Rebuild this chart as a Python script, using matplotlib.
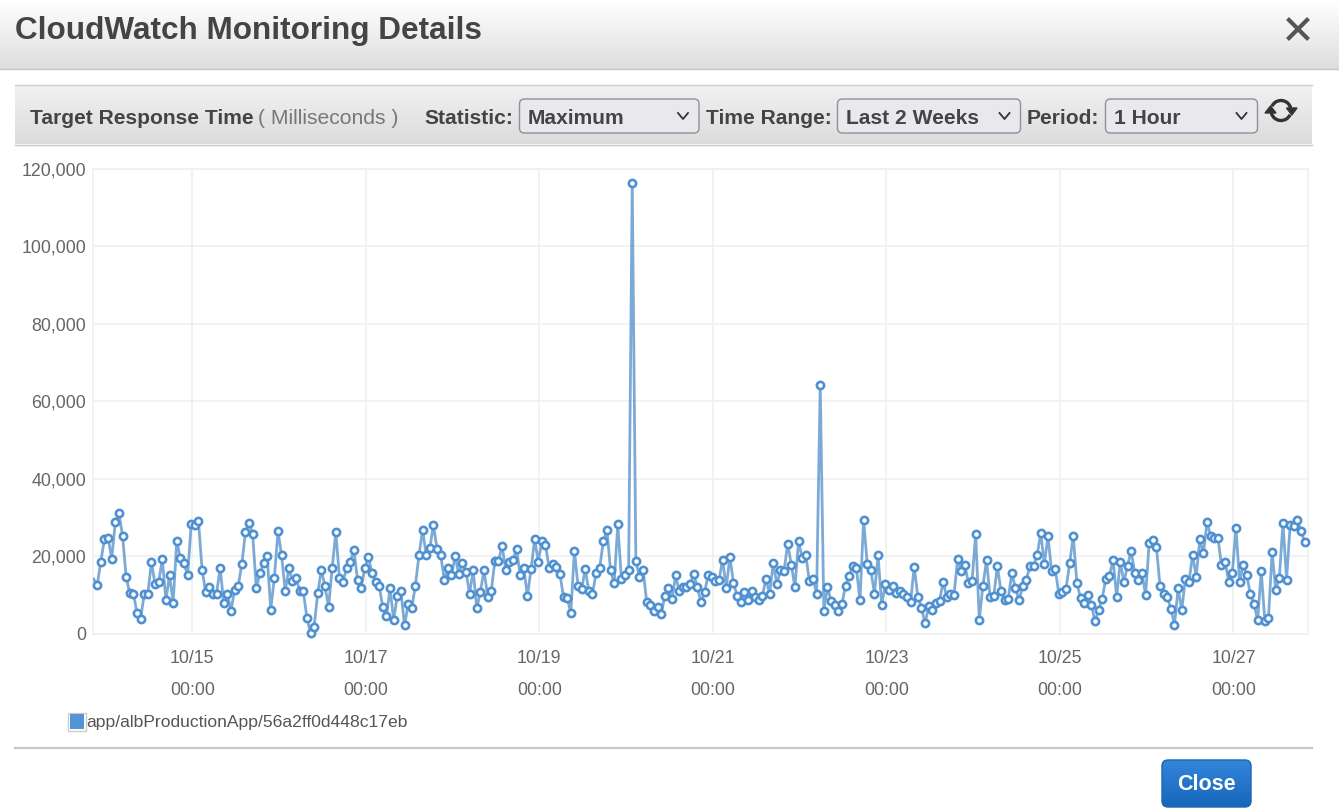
import numpy as np
import matplotlib
matplotlib.use('Agg')
import matplotlib.pyplot as plt
from matplotlib.patches import FancyBboxPatch, Rectangle, Arc

plt.rcParams['font.family'] = ['Liberation Sans', 'DejaVu Sans']

# Maximum target response time per hour, in thousands of ms
response_k = [
    14.1, 12.6, 18.6, 24.4, 24.8, 19.3, 28.7, 31.1, 25.3, 14.7, 10.4, 10.3, 5.4, 3.8, 10.2, 10.3,
    18.5, 12.7, 13.3, 19.2, 8.6, 15.1, 7.9, 23.9, 19.4, 18.2, 15.0, 28.2, 28.0, 29.1, 16.5, 10.7,
    11.9, 10.3, 10.3, 16.9, 7.9, 10.2, 5.9, 11.2, 12.2, 18.0, 26.1, 28.6, 25.7, 11.7, 15.6, 18.1,
    20.0, 6.2, 14.4, 26.4, 20.2, 10.9, 16.9, 13.6, 14.4, 11.0, 11.0, 4.0, 0.1, 1.8, 10.4, 16.5,
    12.2, 6.9, 17.0, 26.2, 14.4, 13.3, 17.0, 18.6, 21.6, 13.9, 11.8, 16.8, 19.8, 15.6, 13.4, 12.2,
    6.8, 4.4, 11.7, 3.4, 9.8, 11.1, 2.1, 7.5, 6.5, 12.3, 20.2, 26.7, 20.3, 22.1, 28.0, 21.9,
    20.4, 13.9, 16.9, 15.0, 19.9, 15.4, 18.1, 16.0, 10.3, 16.3, 6.5, 10.8, 16.4, 9.5, 11.0, 18.8,
    18.8, 22.6, 16.4, 18.6, 19.0, 21.9, 15.0, 17.0, 9.6, 16.6, 24.3, 18.6, 23.8, 22.9, 17.0, 18.0,
    17.1, 15.3, 9.4, 9.3, 5.2, 21.3, 12.4, 11.5, 16.6, 10.9, 10.3, 15.6, 17.0, 23.8, 26.7, 16.3,
    13.0, 28.2, 14.1, 15.0, 16.5, 116.5, 18.7, 14.6, 16.4, 8.2, 7.4, 5.8, 6.8, 5.0, 9.7, 11.8,
    8.9, 15.0, 10.9, 12.0, 12.0, 12.8, 15.4, 11.9, 8.2, 10.6, 15.1, 14.5, 13.5, 13.7, 19.1, 11.8,
    19.8, 13.1, 9.7, 8.2, 10.6, 8.7, 11.1, 9.4, 8.6, 9.6, 14.2, 10.2, 18.3, 12.7, 16.3, 16.2,
    23.2, 17.8, 11.9, 23.9, 19.5, 20.4, 13.5, 14.2, 10.3, 64.3, 5.9, 11.9, 8.5, 7.4, 5.9, 7.5,
    12.4, 14.8, 17.4, 16.8, 8.6, 29.4, 18.0, 16.3, 10.3, 20.2, 7.4, 12.7, 11.2, 12.3, 10.5, 10.9,
    10.2, 9.5, 8.1, 17.3, 9.5, 6.7, 2.6, 7.1, 6.2, 8.0, 8.4, 13.3, 9.4, 10.3, 9.9, 19.2,
    16.2, 17.6, 13.1, 13.6, 25.7, 3.5, 12.4, 18.9, 9.4, 9.7, 17.4, 11.0, 8.6, 9.0, 15.6, 11.7,
    8.6, 12.2, 13.8, 17.4, 17.5, 20.3, 25.9, 18.0, 25.1, 16.2, 16.7, 10.3, 10.7, 11.6, 18.2, 25.2,
    13.0, 9.2, 8.0, 10.0, 7.4, 3.2, 6.0, 9.0, 14.2, 14.9, 19.0, 9.5, 18.5, 13.3, 17.5, 21.3,
    15.6, 13.9, 15.6, 9.9, 23.4, 24.2, 22.4, 12.2, 10.1, 9.5, 6.3, 2.3, 11.7, 6.0, 14.0, 13.3,
    20.3, 14.7, 24.4, 20.7, 28.8, 25.1, 24.8, 24.8, 17.6, 18.6, 13.3, 15.7, 27.3, 13.4, 17.8, 15.0,
    10.1, 7.7, 3.4, 16.1, 3.2, 3.9, 21.1, 11.2, 14.3, 28.6, 13.9, 28.0, 27.9, 29.2, 26.5, 23.6,
]
first_hour = -27.3  # hours relative to 10/15 00:00

tick_days = [0, 2, 4, 6, 8, 10, 12]
tick_dates = ['10/15', '10/17', '10/19', '10/21', '10/23', '10/25', '10/27']
tick_time = '00:00'
y_ticks = [0, 20000, 40000, 60000, 80000, 100000, 120000]

legend_label = 'app/albProductionApp/56a2ff0d448c17eb'
modal_title = 'CloudWatch Monitoring Details'
metric_name = 'Target Response Time'
metric_unit = '( Milliseconds )'
dropdowns = [('Statistic:', 'Maximum'), ('Time Range:', 'Last 2 Weeks'), ('Period:', '1 Hour')]

W, H = 1339, 808
LINE = '#5b95cc'
TEXT = '#444444'

fig = plt.figure(figsize=(W / 100, H / 100), dpi=100, facecolor='white')

# page furniture lives in an overlay axes measured in pixels
ui = fig.add_axes([0, 0, 1, 1], zorder=0)
ui.set_xlim(0, W)
ui.set_ylim(H, 0)
ui.axis('off')


def gradient(x0, x1, y0, y1, top, bottom, clip=None):
    g = np.linspace(0, 1, 64)[:, None, None]
    c0 = np.array(matplotlib.colors.to_rgb(top))
    c1 = np.array(matplotlib.colors.to_rgb(bottom))
    img = c0 + (c1 - c0) * g
    im = ui.imshow(img, extent=(x0, x1, y1, y0), aspect='auto', zorder=1, interpolation='bilinear')
    if clip is not None:
        im.set_clip_path(clip)
    return im


# modal header
gradient(0, W, 0, 69, '#ffffff', '#dedede')
ui.plot([0, W], [69, 69], color='#c4c4c4', lw=1, zorder=2)
ui.text(15, 30.5, modal_title, fontsize=22.7, fontweight='bold', color=TEXT, va='center', zorder=3)
ui.plot([1289, 1307], [20, 38], color='#555555', lw=3, zorder=3)
ui.plot([1289, 1307], [38, 20], color='#555555', lw=3, zorder=3)

# toolbar
gradient(15, 1312, 85, 144, '#f1f1f1', '#dcdcdc')
ui.plot([15, 1312], [85, 85], color='#cfcfcf', lw=1, zorder=2)
ui.plot([15, 1312], [144.5, 144.5], color='#c8c8c8', lw=1, zorder=2)
ui.text(29.5, 118, metric_name, fontsize=15.1, fontweight='bold', color=TEXT, va='center', zorder=3)
ui.text(258.5, 118, metric_unit, fontsize=15.2, color='#777777', va='center', zorder=3)

label_x = [424.5, 705.5, 1026.5]
box_x = [(519.5, 699), (837.5, 1020.5), (1105.5, 1257.5)]
for (label, value), lx, (b0, b1) in zip(dropdowns, label_x, box_x):
    ui.text(lx, 118, label, fontsize=15.1, fontweight='bold', color=TEXT, va='center', zorder=3)
    ui.add_patch(FancyBboxPatch((b0 + 4, 103), b1 - b0 - 8, 26, boxstyle='round,pad=4,rounding_size=5',
                                fc='#e9e9ed', ec='#8f8f9d', lw=1, zorder=2))
    ui.text(b0 + 8.5, 118, value, fontsize=15.15, fontweight='bold', color=TEXT, va='center', zorder=3)
    ui.plot([b1 - 21, b1 - 16, b1 - 11], [113, 119, 113], color='#333333', lw=1.3, zorder=3)

# refresh icon
cx, cy, r = 1281, 110.5, 10
ui.add_patch(Arc((cx, cy), 2 * r, 2 * r, theta1=205, theta2=345, color='#333333', lw=2.4, zorder=3))
ui.add_patch(Arc((cx, cy), 2 * r, 2 * r, theta1=25, theta2=165, color='#333333', lw=2.4, zorder=3))
ui.fill([1265, 1276, 1270.5], [113, 113, 106], color='#333333', zorder=3)
ui.fill([1286.5, 1297, 1291.8], [108, 108, 115], color='#333333', zorder=3)

# legend
ui.add_patch(Rectangle((67.5, 712.5), 18, 18, fc='white', ec='#cccccc', lw=1, zorder=2))
ui.add_patch(Rectangle((70, 714), 14, 15, fc='#5294d4', ec='none', zorder=3))
ui.text(86.5, 722, legend_label, fontsize=12.6, color='#555555', va='center', zorder=3)

# footer
ui.plot([15, 1312], [748, 748], color='#c8c8c8', lw=1.6, zorder=2)
btn = FancyBboxPatch((1166, 764), 81, 39, boxstyle='round,pad=4,rounding_size=6',
                     fc='none', ec='#1a66b3', lw=1, zorder=4)
ui.add_patch(btn)
gradient(1162, 1251, 760, 807, '#3386dc', '#1766b8', clip=btn)
ui.text(1206.5, 785, 'Close', fontsize=15.5, fontweight='bold', color='white', ha='center', va='center', zorder=5)

# the chart itself
ax_left, ax_right, ax_top, ax_bottom = 93, 1308, 169, 633.5
ax = fig.add_axes([ax_left / W, 1 - ax_bottom / H, (ax_right - ax_left) / W, (ax_bottom - ax_top) / H], zorder=1)
ax.patch.set_alpha(0)

px_per_hour = 3.615
zero_px = 192.3
ax.set_xlim((ax_left - zero_px) / px_per_hour, (ax_right - zero_px) / px_per_hour)
ax.set_ylim(0, 120000)

hours = first_hour + np.arange(len(response_k))
values = np.array(response_k) * 1000
ax.plot(hours, values, color=LINE, lw=2, alpha=0.8, zorder=3)
# the first sample sits on the plot edge and shows no marker in the reference
ax.plot(hours[1:], values[1:], ls='none', marker='o', ms=5.2, mfc='white', mec='#4f91d0', mew=1.9,
        zorder=4, clip_on=False)

ax.set_xticks([d * 24 for d in tick_days])
ax.set_xticklabels([f'{d}\n\n{tick_time}' for d in tick_dates], linespacing=0.92)
ax.set_yticks(y_ticks)
ax.yaxis.set_major_formatter(matplotlib.ticker.FuncFormatter(lambda v, _: f'{int(v):,}'))
ax.tick_params(length=0, labelsize=12.8, labelcolor='#666666')
ax.tick_params(axis='x', pad=12)
ax.tick_params(axis='y', pad=5)
ax.grid(True, color='#f0f0f0', lw=1.2)
ax.set_axisbelow(True)
for side in ax.spines:
    ax.spines[side].set_color('#f0f0f0')
    ax.spines[side].set_linewidth(1.2)

fig.savefig('out.png', dpi=100)
